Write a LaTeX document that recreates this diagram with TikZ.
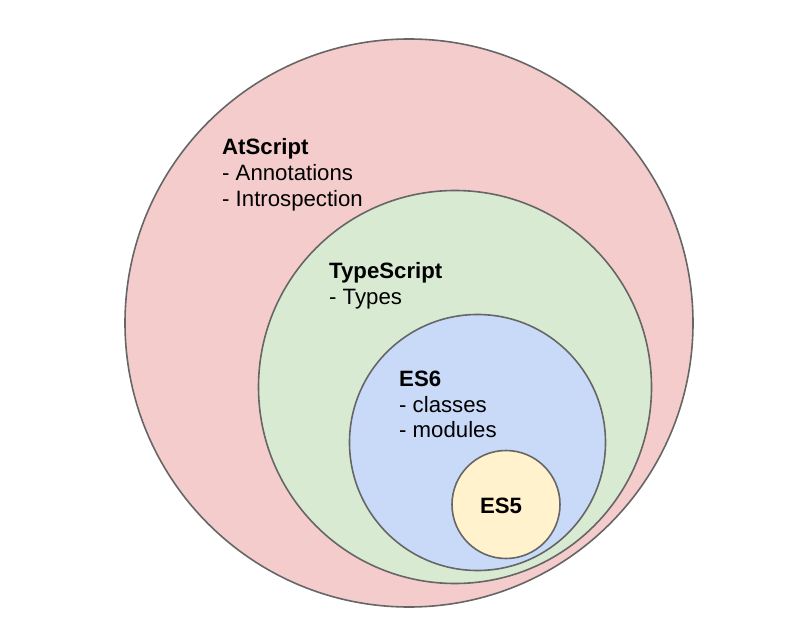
\documentclass[tikz,border=0pt]{standalone}
\usepackage{fontspec}
\setmainfont{Liberation Sans}
\definecolor{pinkf}{HTML}{F4CCCC}
\definecolor{greenf}{HTML}{D9EAD3}
\definecolor{bluef}{HTML}{C9DAF8}
\definecolor{yellowf}{HTML}{FFF2CC}
\definecolor{edge}{HTML}{666666}
\begin{document}
\begin{tikzpicture}[x=1pt,y=-1pt,
  ring/.style={circle,draw=edge,line width=1.6pt,inner sep=0pt},
  lbl/.style={anchor=base west,inner sep=0pt,font=\fontsize{22.2}{26}\selectfont},
  hdr/.style={lbl,font=\fontsize{22.2}{26}\selectfont\bfseries}]
\useasboundingbox (0,0) rectangle (800,644);
\node[ring,fill=pinkf,minimum size=568pt] (at) at (409,323) {};
\node[ring,fill=greenf,minimum size=393pt] (ts) at (455,387) {};
\node[ring,fill=bluef,minimum size=256pt] (es6) at (477.5,442.5) {};
\node[ring,fill=yellowf,minimum size=108pt] (es5) at (506,504.5) {};
\node[hdr] (atT) at (222,155) {AtScript};
\node[lbl] (at1) at (222,181) {- Annotations};
\node[lbl] (at2) at (222,207) {- Introspection};
\node[hdr] (tsT) at (329,279) {TypeScript};
\node[lbl] (ts1) at (329,305) {- Types};
\node[hdr] (e6T) at (399,386) {ES6};
\node[lbl] (e61) at (399,412) {- classes};
\node[lbl] (e62) at (399,437) {- modules};
\node[hdr,anchor=base] (e5T) at (501,513) {ES5};
\end{tikzpicture}
\end{document}
